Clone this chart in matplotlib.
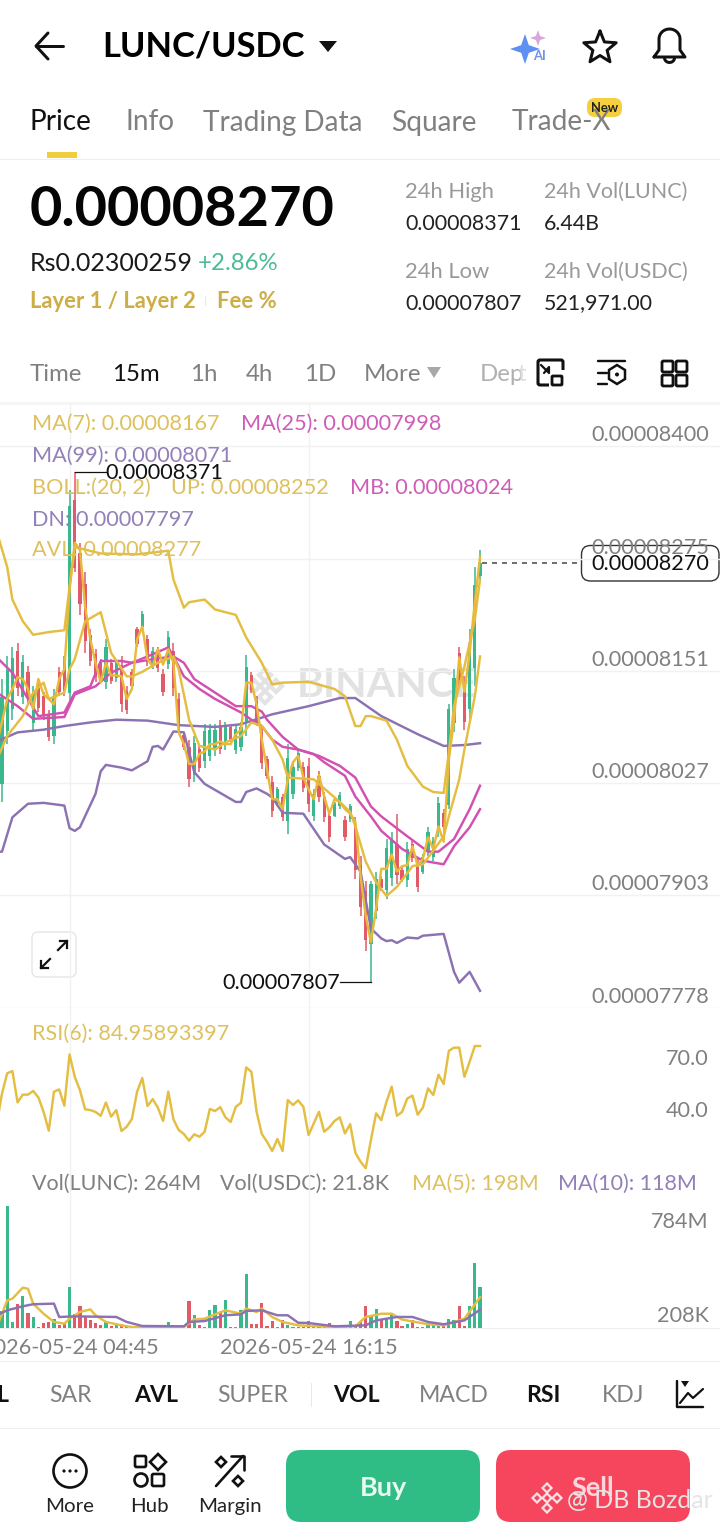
import numpy as np
import matplotlib
matplotlib.use('Agg')
import matplotlib.pyplot as plt
from matplotlib.patches import FancyBboxPatch, Polygon, Circle, Rectangle

plt.rcParams['font.family'] = ['Lato', 'DejaVu Sans']

W, H = 720, 1525

# prices are in units of 1e-8 (8270 -> 0.00008270)
candle_high = [8142,8167,8177,8182,8169,8156,8134,8142,8128,8108,8131,8155,8167,8351,8371,8293,8260,8197,8175,8164,8186,8164,8164,8167,8134,8153,8200,8217,8191,8177,8178,8153,8195,8182,8127,8083,8075,8079,8070,8092,8092,8092,8097,8095,8092,8092,8094,8169,8150,8123,8090,8057,8035,8023,8015,8070,8051,8064,8050,8055,8020,8040,8017,7996,8006,8017,7990,8004,7989,7946,7919,7919,7929,7924,7965,7973,7993,7934,7962,7963,7943,7948,7978,7967,8012,7998,8114,8153,8178,8145,8197,8266,8285]
candle_low = [8006,8070,8097,8123,8114,8116,8086,8105,8097,8073,8070,8123,8123,8116,8260,8213,8171,8156,8139,8138,8131,8136,8139,8105,8103,8131,8178,8197,8156,8153,8150,8123,8153,8123,8083,8064,8023,8028,8039,8044,8051,8057,8059,8064,8070,8059,8062,8079,8127,8090,8042,8031,7989,8001,7985,7970,8009,8040,8017,7995,7985,8006,7984,7962,7989,7998,7963,7984,7921,7880,7841,7807,7877,7908,7899,7913,7915,7917,7912,7940,7906,7926,7946,7941,7967,7974,7998,8083,8134,8086,8094,8134,8250]
body_top = [8122,8152,8165,8173,8161,8150,8127,8137,8123,8103,8122,8150,8160,8333,8340,8281,8247,8191,8170,8160,8178,8160,8160,8158,8129,8150,8197,8214,8186,8173,8174,8148,8189,8173,8120,8080,8067,8071,8065,8085,8086,8086,8091,8090,8089,8087,8089,8155,8147,8118,8083,8053,8028,8020,8011,8055,8045,8060,8045,8046,8015,8035,8012,7991,8004,8014,7986,8001,7979,7936,7907,7915,7921,7921,7955,7964,7960,7931,7954,7959,7937,7945,7973,7963,8005,7994,8109,8143,8171,8136,8182,8246,8270]
body_bot = [8026,8085,8109,8132,8122,8122,8093,8110,8102,8078,8079,8128,8130,8127,8265,8225,8184,8162,8144,8142,8139,8140,8143,8114,8108,8134,8181,8200,8161,8157,8154,8128,8159,8132,8090,8067,8031,8036,8044,8051,8057,8063,8065,8069,8073,8064,8067,8093,8130,8095,8049,8035,7996,8004,7989,7985,8015,8044,8022,8004,7990,8011,7989,7967,7991,8001,7967,7987,7931,7890,7853,7849,7885,7911,7909,7922,7925,7920,7920,7944,7912,7929,7951,7945,7974,7978,8003,8093,8141,8095,8109,8154,8256]
candle_dir = 'GGGRGRGRRRGRRGRRRRRRGRGRRRRGRGRRGRRRRGRGGGRGRGGGRRRRRGRGGGRRGRRRGGRGRRRGGRGGRRGRRGGGGRGGRRGGG'

volume = [107,784,39,157,204,99,71,6,32,39,56,17,28,264,92,140,71,49,32,21,39,11,17,24,6,6,6,6,6,9,6,6,39,6,11,11,174,86,17,6,114,146,99,183,6,6,114,350,28,28,161,13,43,6,49,17,6,6,6,45,6,6,6,32,6,11,11,43,17,45,140,86,125,49,60,97,43,11,28,49,6,6,34,34,28,24,60,54,142,11,142,419,264]
vol_ma5_x = [-1,1,2,4,5,6,8,10,12,13,15,17,18,20,23,25,35,37,39,41,43,46,47,49,50,52,54,57,64,68,70,73,75,77,82,85,89,92]
vol_ma5 = [6,178,189,260,253,157,92,39,28,60,103,120,82,39,17,6,6,56,60,88,114,92,125,103,125,71,39,17,6,11,71,92,92,54,24,17,60,198]
vol_ma10_x = [-1,1,4,6,10,11,14,22,24,27,35,36,39,43,46,47,50,53,55,57,59,64,70,72,76,79,82,85,89,92]
vol_ma10 = [82,114,140,153,157,71,75,71,39,13,11,39,45,82,88,110,114,82,82,34,32,11,17,49,71,71,39,24,49,118]

rsi6 = [40.3,57.6,69.2,70.5,52.4,56.9,56.9,59.0,55.3,47.0,36.1,58.6,59.9,50.5,80.1,67.2,59.5,48.4,48.0,46.9,44.7,52.4,44.2,48.0,35.9,38.4,42.8,58.6,66.5,50.3,54.3,49.4,41.7,58.6,42.6,36.5,34.2,30.3,34.0,32.6,35.5,48.6,47.4,49.7,43.8,41.1,49.9,52.2,72.6,70.1,47.0,34.2,29.7,24.4,31.3,24.4,53.8,50.9,53.6,49.9,33.6,40.3,47.0,35.5,38.0,41.7,43.8,34.5,39.9,23.4,18.2,14.4,30.7,46.1,42.2,52.8,61.5,44.7,46.9,54.7,56.3,45.3,49.4,60.5,56.7,68.4,63.0,82.2,84.0,84.0,67.2,75.9,84.96,84.96]

avl = [8070,8095,8120,8131,8144,8142,8131,8109,8142,8125,8120,8114,8142,8153,8241,8293,8285,8222,8186,8160,8138,8160,8146,8146,8145,8120,8131,8186,8200,8164,8156,8175,8158,8175,8160,8083,8070,8048,8048,8059,8062,8070,8070,8073,8070,8070,8081,8086,8138,8138,8114,8075,8042,8009,8009,7998,8031,8050,8057,8033,8020,8009,8036,8012,7993,8009,8006,7998,7993,7984,7924,7880,7851,7888,7932,7932,7948,7929,7935,7936,7957,7935,7943,7967,7954,7979,7962,8053,8097,8166,8128,8171,8227,8277]

ma7_x = [-1,1,4,6,8,9,12,13,14,16,19,21,24,25,27,30,33,34,36,38,41,43,46,48,50,52,54,55,60,65,67,68,70,72,74,76,79,81,83,85,86,88,89,91,92]
ma7 = [8053,8079,8101,8127,8138,8120,8127,8153,8164,8206,8216,8171,8145,8145,8150,8160,8167,8153,8097,8068,8064,8072,8079,8094,8090,8075,8053,8033,8031,8006,7995,7979,7940,7917,7902,7912,7935,7937,7952,7968,7990,8031,8064,8123,8167]

ma25_x = [-1,3,6,12,14,18,21,25,29,33,35,38,41,44,46,48,50,52,54,57,60,62,66,68,71,73,77,81,85,87,90,92]
ma25 = [8127,8112,8098,8100,8125,8134,8149,8160,8164,8167,8145,8131,8120,8111,8105,8097,8090,8075,8067,8064,8059,8050,8035,8012,7990,7974,7954,7941,7937,7957,7978,7998]

ma99_x = [-1,3,8,12,17,22,28,34,41,46,52,59,65,68,73,80,85,89,92]
ma99 = [8073,8083,8086,8090,8094,8097,8096,8091,8089,8092,8103,8112,8121,8121,8101,8081,8068,8069,8071]

boll_up_x = [-1,1,2,4,6,9,12,13,14,19,26,32,33,35,36,39,41,45,47,50,52,54,59,64,66,68,69,70,71,74,76,78,81,83,85,86,87,89,91,92]
boll_up = [8305,8266,8230,8206,8191,8194,8196,8244,8288,8281,8280,8284,8252,8221,8227,8230,8219,8213,8188,8160,8136,8138,8139,8131,8123,8090,8090,8101,8101,8096,8075,8046,8023,8017,8016,8061,8112,8156,8208,8252]

boll_mb_x = [-1,2,5,7,12,14,17,19,23,25,28,32,33,35,37,41,45,48,50,51,54,57,61,65,68,71,73,78,82,84,87,90,92]
boll_mb = [8166,8149,8120,8101,8105,8127,8134,8162,8162,8160,8167,8177,8167,8160,8142,8127,8112,8112,8106,8097,8078,8064,8057,8046,8033,8001,7990,7968,7951,7951,7965,7998,8024]

boll_dn_x = [-1,0,2,5,8,12,13,14,15,18,19,20,23,25,28,29,30,31,33,35,37,39,42,45,46,47,49,51,52,54,58,60,62,66,67,69,71,73,74,75,76,78,80,81,85,87,88,90,92]
boll_dn = [7951,7951,7989,8004,8005,8002,7977,7974,7978,8015,8040,8047,8044,8041,8051,8067,8068,8064,8084,8083,8039,8026,8016,8006,8006,8017,8021,8015,8011,7994,7993,7976,7959,7943,7945,7929,7866,7855,7852,7853,7850,7856,7855,7858,7860,7818,7806,7818,7797]

price_ticks = [8400, 8275, 8151, 8027, 7903, 7778]
last_price = 8270
rsi_ticks = [70.0, 40.0]
time_ticks = [13, 59]
time_labels = ['2026-05-24 04:45', '2026-05-24 16:15']

yellow = '#E4BE42'
pink = '#D250B0'
purple = '#8B72B2'
green = '#3BB78E'
red = '#E05A68'
grey = '#808080'
txt_yellow = '#DFC05E'
txt_pink = '#CF5DB8'
txt_purple = '#9280B8'
grid_c = '#F1F1F1'
line_w = 1.75

fig = plt.figure(figsize=(W / 100, H / 100), dpi=100, facecolor='white')

ui = fig.add_axes([0, 0, 1, 1])
ui.set_xlim(0, W)
ui.set_ylim(H, 0)
ui.axis('off')


def chart_axes(top, bottom):
    ax = fig.add_axes([0, 1 - bottom / H, 1, (bottom - top) / H])
    ax.patch.set_alpha(0)
    for s in ax.spines.values():
        s.set_visible(False)
    ax.set_xlim(-2 / 5.196, (W - 2) / 5.196)
    ax.set_xticks(time_ticks)
    ax.tick_params(length=0, labelleft=False, labelbottom=False)
    ax.grid(True, color=grid_c, lw=1)
    ax.set_axisbelow(True)
    return ax


def t(x, y, s, px, color='#000000', weight='normal', ha='left', ax=None, **kw):
    (ax or ui).text(x, y + 1.5, s, fontsize=px * 0.72, color=color, fontweight=weight,
                    ha=ha, va='center', **kw)


def sparkle(cx, cy, r, color):
    a = np.arange(8) * np.pi / 4
    rr = np.where(np.arange(8) % 2 == 0, r, r * 0.36)
    ui.add_patch(Polygon(np.c_[cx + rr * np.sin(a), cy - rr * np.cos(a)], closed=True, fc=color, ec='none'))


def diamond(cx, cy, r, **kw):
    ui.add_patch(Polygon([(cx, cy - r), (cx + r, cy), (cx, cy + r), (cx - r, cy)], closed=True, **kw))


def line(xs, ys, lw=2.0, color='#111111', **kw):
    ui.plot(xs, ys, lw=lw * 0.72, color=color, solid_capstyle='round', solid_joinstyle='round', **kw)


def rbox(x0, y0, x1, y1, r, **kw):
    ui.add_patch(FancyBboxPatch((x0 + r, y0 + r), x1 - x0 - 2 * r, y1 - y0 - 2 * r,
                                boxstyle=f'round,pad={r},rounding_size={r}', **kw))


# header
line([36, 63], [46, 46], 3)
line([48, 36, 48], [33, 46, 59], 3)
t(102, 45, 'LUNC/USDC', 34.5, weight='bold')
ui.add_patch(Polygon([(319, 41), (337, 41), (328, 52)], closed=True, fc='#111111'))
sparkle(525, 49, 15, '#5D90F2')
sparkle(538, 38, 8, '#D9A6DC')
t(533, 55, 'AI', 13, '#6E93E8', 'bold')

ang = np.arange(11) * np.pi / 5
rad = np.where(np.arange(11) % 2 == 0, 17, 7.5)
line(600 + rad * np.sin(ang), 48 - rad * np.cos(ang), 3)

bell_a = np.linspace(np.pi, 0, 20)
bx = [654, 659] + list(669.5 + 10.5 * np.cos(bell_a)) + [680, 685, 654]
by = [57, 50] + list(39 - 10 * np.sin(bell_a)) + [50, 57, 57]
line(bx, by, 3)
ca = np.linspace(np.pi, 2 * np.pi, 10)
line(669.5 + 5 * np.cos(ca), 58 - 4.5 * np.sin(ca), 3)

for x, s, c in [(30, 'Price', '#111111'), (125, 'Info', grey), (203, 'Trading Data', grey),
                (391, 'Square', grey), (512, 'Trade-X', grey)]:
    t(x, 121, s, 28, c)
rbox(587, 98, 622, 117, 8, fc='#F5CF3D', ec='none')
t(604.5, 106, 'New', 13, '#222222', 'bold', ha='center')
ui.add_patch(Rectangle((47, 152), 30, 6, fc='#F0CC3F', ec='none'))
line([0, 720], [158.5, 158.5], 1, '#EEEEEE')

# stats
t(30, 209, '0.00008270', 56, '#050505', 'bold')
t(30, 262, 'Rs0.02300259', 25, '#1A1A1A')
t(198, 262, '+2.86%', 24, '#4DBB96')
t(30, 300, 'Layer 1 / Layer 2', 22, '#CDAE45', 'bold')
line([205, 205], [296, 305], 1, '#E6E6E6')
t(217, 300, 'Fee %', 22, '#CDAE45', 'bold')
t(405, 190, '24h High', 22, '#999999')
t(544, 190, '24h Vol(LUNC)', 21.5, '#999999')
t(405, 222, '0.00008371', 21.4, '#222222')
t(544, 222, '6.44B', 21.4, '#222222')
t(405, 270, '24h Low', 22, '#999999')
t(544, 270, '24h Vol(USDC)', 21.5, '#999999')
t(405, 302, '0.00007807', 21.4, '#222222')
t(544, 302, '521,971.00', 21.4, '#222222')

# interval row
for x, s, c in [(30, 'Time', grey), (112, '15m', '#111111'), (190, '1h', grey), (246, '4h', grey),
                (304, '1D', grey), (364, 'More', grey), (480, 'Dep', '#B0B0B0'), (517, 't', '#DDDDDD')]:
    t(x, 373, s, 24, c)
ui.add_patch(Polygon([(427, 367), (441, 367), (434, 378)], closed=True, fc='#A8A8A8'))
rbox(538, 360, 563, 385, 2, fc='none', ec='#111111', lw=2.2)
ui.add_patch(Rectangle((549, 370), 16, 17, fc='white', ec='none'))
rbox(552, 376, 562, 385, 1, fc='none', ec='#111111', lw=2)
line([541, 549, 549, 544], [365, 373, 367, 373], 2.2)
line([598, 625], [361, 361], 2.4)
line([598, 607], [373, 373], 2.4)
line([598, 607], [384, 384], 2.4)
ui.add_patch(Polygon([(617, 365), (625, 370), (625, 379), (617, 384), (609, 379), (609, 370)],
                     closed=True, fc='none', ec='#111111', lw=1.8))
ui.add_patch(Circle((617, 374.5), 2, fc='#111111', ec='none'))
for x0, y0 in [(662, 361), (676, 361), (662, 375), (676, 375)]:
    rbox(x0, y0, x0 + 11, y0 + 11, 1.5, fc='none', ec='#111111', lw=2)
ui.add_patch(Rectangle((0, 402), W, 3, fc='#F5F5F5', ec='none'))

# watermark
for dx, dy in [(0, 0), (-11, 0), (11, 0), (0, -11), (0, 11)]:
    diamond(265 + dx, 686 + dy, 6 if dx or dy else 5, fc='none', ec='#E3E3E3', lw=3)
t(297, 684, 'BINANCE', 41, '#E2E2E2', 'bold')
ui.add_patch(Rectangle((481, 660), 40, 50, fc='white', ec='none'))

# price pane
price_ax = chart_axes(404, 1008)
price_ax.set_ylim(8400 - (1008 - 446) * 1.1042, 8400 + (446 - 404) * 1.1042)
price_ax.set_yticks(price_ticks)

xs = np.arange(len(candle_high))
up = np.array([d == 'G' for d in candle_dir])
colors = np.where(up, green, red)
price_ax.vlines(xs, candle_low, candle_high, colors=colors, lw=1.1, zorder=2)
price_ax.bar(xs, np.array(body_top) - np.array(body_bot), bottom=body_bot, width=0.62, color=colors, zorder=2)

price_ax.plot(ma99_x, ma99, color=purple, lw=line_w, zorder=3)
price_ax.plot(boll_dn_x, boll_dn, color=purple, lw=line_w, zorder=3)
price_ax.plot(ma25_x, ma25, color=pink, lw=line_w, zorder=3)
price_ax.plot(boll_mb_x, boll_mb, color=pink, lw=line_w, zorder=3)
price_ax.plot(boll_up_x, boll_up, color=yellow, lw=line_w, zorder=3)
price_ax.plot(ma7_x, ma7, color=yellow, lw=line_w, zorder=3)
price_ax.plot(np.arange(-1, len(avl) - 1), avl, color='#E8B93A', lw=line_w, zorder=4)

for v in price_ticks:
    price_ax.annotate(f'{v / 1e8:.8f}', xy=(709 / W, v), xycoords=price_ax.get_yaxis_transform(),
                      xytext=(0, 0.5), textcoords='offset points', ha='right', va='bottom',
                      fontsize=21.7 * 0.72, color=grey)

price_ax.plot([92.3, 111.5], [last_price, last_price], color='#555555', lw=1.2, ls=(0, (3, 3)), zorder=5)
rbox(581.5, 545.5, 719, 581, 9, fc='white', ec='#333333', lw=1, zorder=6)
price_ax.text(709 / W, last_price - 1, f'{last_price / 1e8:.8f}', transform=price_ax.get_yaxis_transform(),
              ha='right', va='center', fontsize=21.7 * 0.72, color='#111111', zorder=7)

# high / low markers
price_ax.plot([14, 20], [8371, 8371], color='#111111', lw=0.9, zorder=6)
price_ax.text(19.9, 8370, '0.00008371', fontsize=21.7 * 0.72, color='#111111', va='center', zorder=6)
price_ax.plot([65.1, 71], [7807, 7807], color='#111111', lw=0.9, zorder=6)
price_ax.text(65.1, 7806, '0.00007807', fontsize=21.7 * 0.72, color='#111111', va='center', ha='right', zorder=6)

# indicator legend
legend_ax = fig.add_axes([0, 0, 1, 1])
legend_ax.set_xlim(0, W)
legend_ax.set_ylim(H, 0)
legend_ax.axis('off')
for x, y, s, c in [(32, 422, 'MA(7): 0.00008167', txt_yellow), (241, 422, 'MA(25): 0.00007998', txt_pink),
                   (32, 454, 'MA(99): 0.00008071', txt_purple), (32, 486, 'BOLL:(20, 2)', txt_yellow),
                   (171, 486, 'UP: 0.00008252', txt_yellow), (350, 486, 'MB: 0.00008024', txt_pink),
                   (32, 518, 'DN: 0.00007797', txt_purple), (32, 549, 'AVL: 0.00008277', txt_yellow)]:
    t(x, y, s, 21.7, c, ax=legend_ax)

rbox(32, 932, 76, 977, 6, fc='white', ec='#E6E6E6', lw=1, zorder=7)
for (a, b), (c, d) in [((41, 968), (50, 959)), ((67, 941), (58, 950))]:
    legend_ax.plot([a, c], [b, d], color='#111111', lw=1.6)
legend_ax.plot([41, 41, 48], [961, 968, 968], color='#111111', lw=1.6)
legend_ax.plot([60, 67, 67], [941, 941, 948], color='#111111', lw=1.6)
legend_ax.set_zorder(10)

# rsi pane
rsi_ax = chart_axes(1008, 1168)
rsi_ax.set_ylim(84.96 - (1168 - 1046) / 1.733, 84.96 + (1046 - 1008) / 1.733)
rsi_ax.set_yticks([])
rsi_ax.plot(np.arange(-1, len(rsi6) - 1), rsi6, color=yellow, lw=line_w, clip_on=False)
for v in rsi_ticks:
    rsi_ax.annotate(f'{v:.1f}', xy=(709 / W, v), xycoords=rsi_ax.get_yaxis_transform(),
                    xytext=(0, 2.2), textcoords='offset points', ha='right', va='bottom',
                    fontsize=21.7 * 0.72, color=grey)
t(32, 1032, 'RSI(6): 84.95893397', 21.7, txt_yellow)

# volume pane
vol_ax = chart_axes(1168, 1328)
vol_ax.set_ylim(0, 160 / 0.1552)
vol_ax.set_yticks([])
vol_ax.bar(xs, volume, width=0.62, color=colors, zorder=2)
vol_ax.plot(vol_ma5_x, vol_ma5, color=yellow, lw=line_w, zorder=3)
vol_ax.plot(vol_ma10_x, vol_ma10, color=purple, lw=line_w, zorder=3)
for x, s, c in [(32, 'Vol(LUNC): 264M', grey), (220, 'Vol(USDC): 21.8K', grey),
                (412, 'MA(5): 198M', txt_yellow), (558, 'MA(10): 118M', txt_purple)]:
    t(x, 1182, s, 21.5, c)
t(709, 1220, '784M', 21.7, grey, ha='right')
t(709, 1314, '208K', 21.7, grey, ha='right')

line([0, 720], [1328, 1328], 1, '#EEEEEE')
for k, s in zip(time_ticks, time_labels):
    vol_ax.annotate(s, xy=(k, 0), xycoords=vol_ax.get_xaxis_transform(), xytext=(0, -20 * 0.72),
                    textcoords='offset points', ha='center', va='center', fontsize=21.7 * 0.72, color=grey)

# indicator tabs
line([0, 720], [1360.5, 1360.5], 1, '#EEEEEE')
line([0, 720], [1427.5, 1427.5], 1, '#EEEEEE')
for x, s, c in [(-4, 'L', '#111111'), (49, 'SAR', grey), (134, 'AVL', '#111111'), (217, 'SUPER', grey),
                (333, 'VOL', '#111111'), (419, 'MACD', grey), (526, 'RSI', '#111111'), (602, 'KDJ', grey)]:
    t(x, 1394, s, 23, c, weight='bold' if c != grey else 'normal')
line([311, 311], [1383, 1406], 1, '#E8E8E8')
line([677, 677, 703], [1381, 1407, 1407], 2.4)
line([680, 688, 693, 703], [1403, 1393, 1398, 1389], 2.2)
ui.add_patch(Polygon([(681, 1381), (689, 1381), (685, 1387)], closed=True, fc='#111111'))

# bottom bar
ui.add_patch(Circle((70, 1471), 16.5, fc='none', ec='#111111', lw=1.9))
for dx in (-6, 0, 6):
    ui.add_patch(Circle((70 + dx, 1471), 1.6, fc='#111111', ec='none'))
t(70, 1505, 'More', 20.5, '#222222', ha='center')
rbox(135, 1456, 146, 1467, 1.5, fc='none', ec='#111111', lw=1.9)
diamond(158, 1462, 8, fc='none', ec='#111111', lw=1.9)
ui.add_patch(Circle((141, 1480), 6.5, fc='none', ec='#111111', lw=1.9))
rbox(152, 1474, 164, 1486, 1.5, fc='none', ec='#111111', lw=1.9)
t(149, 1505, 'Hub', 20.5, '#222222', ha='center')
line([216, 243], [1486, 1456], 2.6)
line([231, 244, 244], [1456, 1456, 1470], 2.6)
diamond(221, 1462, 5, fc='none', ec='#111111', lw=1.9)
diamond(238, 1481, 5, fc='none', ec='#111111', lw=1.9)
t(230, 1505, 'Margin', 20.5, '#222222', ha='center')

rbox(286, 1450, 480, 1522, 15, fc='#2FBD85', ec='none')
rbox(496, 1450, 690, 1522, 15, fc='#F6465D', ec='none')
t(383, 1486, 'Buy', 27, '#E8F8F1', 'bold', ha='center')
t(593, 1486, 'Sell', 27, '#FBD5DA', 'bold', ha='center')

for dx, dy in [(0, 0), (-10, 0), (10, 0), (0, -10), (0, 10)]:
    diamond(547 + dx, 1498 + dy, 4.5, fc='none', ec='#F7E3E6', lw=1.6)
t(567, 1499, '@ DB Bozdar', 25, '#E4E4E4')

fig.savefig('out.png', dpi=100, facecolor='white')
